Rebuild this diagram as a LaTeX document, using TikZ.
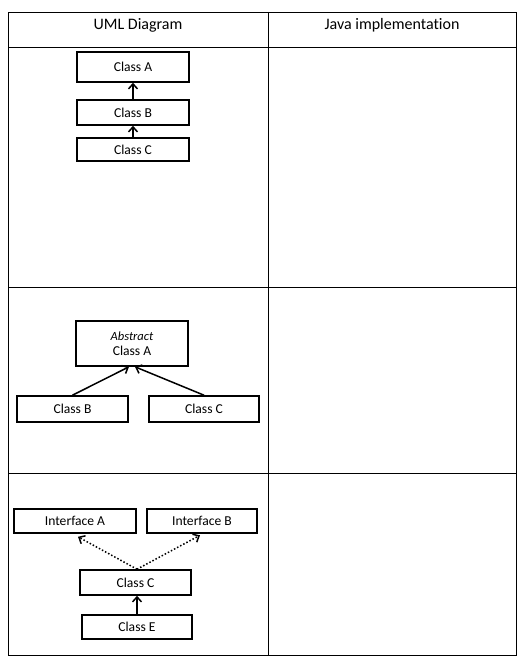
\documentclass[tikz,border=0pt]{standalone}
\usepackage{fontspec}
\setmainfont[Ligatures={NoCommon}]{Carlito}
\usetikzlibrary{arrows.meta}
\begin{document}
\begin{tikzpicture}[x=1pt,y=-1pt,
  cls/.style={draw, line width=1.6pt, inner sep=0pt, font=\fontsize{13.6}{15}\selectfont, align=center},
  gen/.style={line width=1.5pt, -{Straight Barb[length=5pt,width=9pt,line width=1.5pt]}},
  real/.style={line width=1.5pt, dotted, -{Straight Barb[length=5pt,width=9pt,line width=1.5pt]}},
  grid/.style={line width=0.9pt},
  hdr/.style={font=\fontsize{16}{18}\selectfont}]
\useasboundingbox (0,0) rectangle (522,658);
% table
\draw[grid] (8,12) rectangle (516,655);
\draw[grid] (8,47) -- (516,47);
\draw[grid] (8,287) -- (516,287);
\draw[grid] (8,473) -- (516,473);
\draw[grid] (268,12) -- (268,655);
\node[hdr] (h1) at (138,25.5) {UML Diagram};
\node[hdr] (h2) at (392,25.5) {Java implementation};
% section 1
\node[cls, minimum width=112pt, minimum height=30pt] (A1) at (133,67) {Class A};
\node[cls, minimum width=112pt, minimum height=25pt] (B1) at (133,112.5) {Class B};
\node[cls, minimum width=112pt, minimum height=23pt] (C1) at (133,149.5) {Class C};
\draw[gen] (B1.north) -- (A1.south);
\draw[gen] (C1.north) -- (B1.south);
% section 2
\node[cls, minimum width=112pt, minimum height=45pt] (A2) at (132,343.5) {\textit{\fontsize{12.5}{15}\selectfont Abstract}\\Class A};
\node[cls, minimum width=111pt, minimum height=26pt] (B2) at (72.5,409) {Class B};
\node[cls, minimum width=110pt, minimum height=26pt] (C2) at (204,409) {Class C};
\draw[gen] (B2.north) -- ([xshift=-3pt]A2.south);
\draw[gen] (C2.north) -- ([xshift=3pt]A2.south);
% section 3
\node[cls, minimum width=122pt, minimum height=24pt] (IA) at (75,521) {Interface A};
\node[cls, minimum width=110pt, minimum height=24pt] (IB) at (202,521) {Interface B};
\node[cls, minimum width=111pt, minimum height=25pt] (C3) at (135.5,582.5) {Class C};
\node[cls, minimum width=110pt, minimum height=24pt] (E3) at (137,627) {Class E};
\coordinate (C3top) at ([xshift=1.5pt]C3.north);
\draw[real] (C3top) -- ([xshift=3pt,yshift=-3pt]IA.south);
\draw[real] (C3top) -- ([xshift=-2pt,yshift=-1.5pt]IB.south);
\draw[gen] (E3.north) -- (E3.north |- C3.south);
\end{tikzpicture}
\end{document}
